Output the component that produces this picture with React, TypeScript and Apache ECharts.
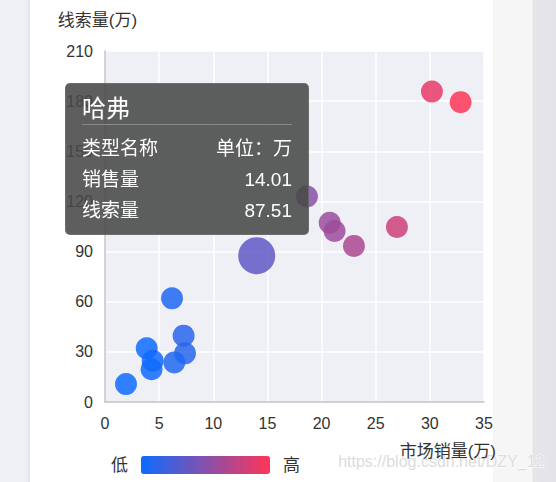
import React, { useEffect, useRef } from "react";
import * as echarts from "echarts";

// 品牌 / 市场销量(万) / 线索量(万) / 气泡大小
const brands = ["", "", "", "", "", "", "", "", "哈弗", "", "", "", "", "", "", ""];
const sales = [1.94, 3.85, 4.4, 4.3, 6.19, 7.26, 7.39, 6.4, 14.01, 18.65, 20.75, 21.2, 22.99, 26.96, 30.19, 32.84];
const leads = [10.7, 32.2, 24.7, 19.6, 62.0, 39.7, 29.1, 23.7, 87.51, 122.9, 107.3, 102.3, 93.4, 104.7, 185.7, 179.4];
const sizes = [22, 22, 22, 22, 22, 22, 22, 22, 37, 22, 22, 22, 22, 22, 22, 22];

const FONT = '"Liberation Sans", "Noto Sans CJK SC", sans-serif';
const focusIndex = 8;

const ScatterChart: React.FC = () => {
  const chartRef = useRef<HTMLDivElement>(null);

  useEffect(() => {
    if (!chartRef.current) return;
    const chart = echarts.init(chartRef.current, undefined, { renderer: "svg" });

    const data = sales.map((x, i) => ({
      name: brands[i],
      value: [x, leads[i]],
      symbolSize: sizes[i],
    }));

    const row = (l: string, r: string) =>
      `<div style="display:flex;justify-content:space-between;font-size:19px;line-height:31px"><span>${l}</span><span>${r}</span></div>`;

    const option: echarts.EChartsOption = {
      animation: false,
      textStyle: { fontFamily: FONT },
      grid: {
        left: 105,
        right: 72,
        top: 51,
        bottom: 80,
        show: true,
        backgroundColor: "#eff0f6",
        borderWidth: 0,
      },
      tooltip: {
        trigger: "item",
        triggerOn: "none",
        alwaysShowContent: true,
        backgroundColor: "rgba(72,72,72,0.88)",
        borderColor: "rgba(120,120,120,0.6)",
        borderWidth: 1,
        padding: [10, 16, 8, 16],
        position: () => [65, 83],
        extraCssText: `border-radius:5px;box-shadow:none;font-family:${FONT};color:#fff`,
        formatter: (p: any) =>
          `<div style="width:210px;color:#fff">` +
          `<div style="font-size:24px;line-height:30px;border-bottom:1px solid #8a8a8a;margin-bottom:8px">${p.name}</div>` +
          row("类型名称", "单位：万") +
          row("销售量", p.value[0].toFixed(2)) +
          row("线索量", p.value[1].toFixed(2)) +
          `</div>`,
      },
      visualMap: {
        type: "continuous",
        dimension: 0,
        min: 4,
        max: 32.8,
        orient: "horizontal",
        left: 96,
        top: 441,
        itemWidth: 18,
        itemHeight: 129,
        text: ["高", "低"],
        textGap: 13,
        calculable: false,
        inRange: { color: ["#0d6bff", "#ff3558"] },
        textStyle: { color: "#333", fontSize: 17, fontFamily: FONT },
      },
      xAxis: {
        type: "value",
        min: 0,
        max: 35,
        interval: 5,
        name: "市场销量(万)",
        nameLocation: "end",
        nameGap: 12,
        nameTextStyle: {
          color: "#333",
          fontSize: 17,
          align: "right",
          verticalAlign: "top",
          padding: [41, 0, 0, 0],
        },
        axisLine: { show: true, lineStyle: { color: "#c4c4c8", width: 1.5 } },
        axisTick: { show: false },
        axisLabel: { color: "#333", fontSize: 16, margin: 13 },
        splitLine: { show: true, lineStyle: { color: "#ffffff", width: 1.5 } },
      },
      yAxis: {
        type: "value",
        min: 0,
        max: 210,
        interval: 30,
        name: "线索量(万)",
        nameLocation: "end",
        nameGap: 22,
        nameTextStyle: { color: "#333", fontSize: 17, padding: [0, 15, 0, 0] },
        axisLine: { show: true, lineStyle: { color: "#c4c4c8", width: 1.5 } },
        axisTick: { show: false },
        axisLabel: { color: "#333", fontSize: 16, margin: 12 },
        splitLine: { show: true, lineStyle: { color: "#ffffff", width: 1.5 } },
      },
      graphic: [
        {
          type: "text",
          right: 11,
          top: 453,
          silent: true,
          style: {
            text: "https://blog.csdn.net/DZY_12",
            fill: "#dcdcdc",
            stroke: "#ffffff",
            lineWidth: 1,
            font: '16px "Liberation Sans", sans-serif',
          },
        },
      ],
      series: [
        {
          type: "scatter",
          data,
          itemStyle: { opacity: 0.85 },
          emphasis: { disabled: true },
        },
      ],
    };

    chart.setOption(option);
    chart.dispatchAction({ type: "showTip", seriesIndex: 0, dataIndex: focusIndex });

    return () => {
      chart.dispose();
    };
  }, []);

  return (
    <div ref={chartRef} style={{ position: "absolute", left: 0, top: 0, width: 556, height: 482 }} />
  );
};

const App: React.FC = () => (
  <div
    style={{
      position: "fixed",
      left: 0,
      top: 0,
      width: 556,
      height: 482,
      overflow: "hidden",
      background:
        "linear-gradient(to right, #eef0f5 0px, #eef0f5 25px, #e2e4ea 30px, #ffffff 30px, #ffffff 493px, #f6f6f6 493px, #f6f6f6 532px, #e6e6ea 533px, #e3e3e8 556px)",
    }}
  >
    <ScatterChart />
  </div>
);

export default App;
